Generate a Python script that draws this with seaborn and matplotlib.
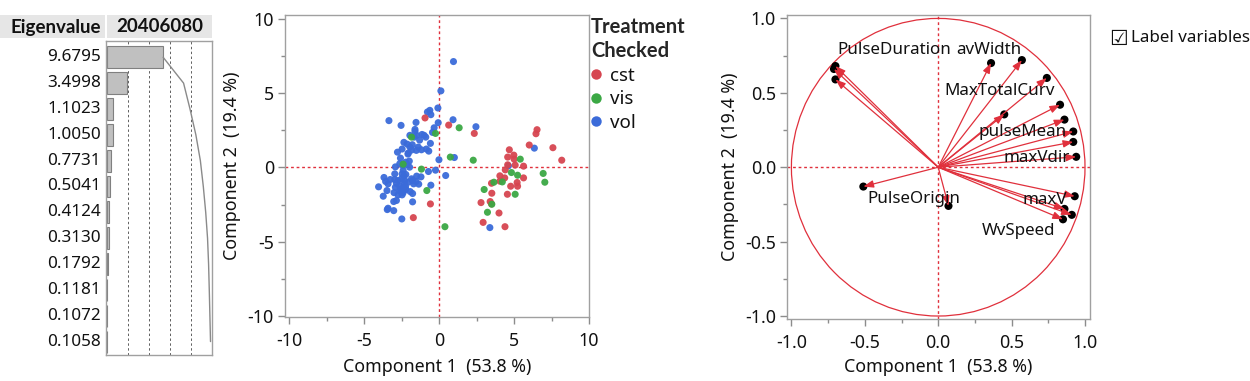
import numpy as np
import pandas as pd
import matplotlib
matplotlib.use("Agg")
import matplotlib.pyplot as plt
import matplotlib.transforms as mtransforms
from matplotlib.patches import Circle, Rectangle
from matplotlib.lines import Line2D
from matplotlib.ticker import MultipleLocator, FormatStrFormatter
import seaborn as sns

# ---------------- data ----------------
eigenvalues = [9.6795, 3.4998, 1.1023, 1.0050, 0.7731, 0.5041,
               0.4124, 0.3130, 0.1792, 0.1181, 0.1072, 0.1058]
n_variables = 18
pct_ticks = [20, 40, 60, 80]

groups = ["cst", "vis", "vol"]

cst_x = [-0.95, 0.63, 2.34, -0.59, -1.73, 6.53, 6.46, 6.01, 7.59, 8.18, 4.68, 4.57,
         4.98, 5.00, 5.07, 4.57, 5.63, 4.41, 4.05, 4.37, 4.05, 3.49, 5.63, 5.20,
         5.23, 4.77, 3.51, 4.55, 2.79, 3.40, 3.49, 3.99, 2.93, 4.39]
cst_y = [3.33, 2.85, 2.29, -2.45, -3.37, 2.54, 2.27, 1.51, 1.33, 0.49, 1.19, 0.70,
         0.83, 0.56, 0.16, 0.18, 0.09, -0.16, -0.56, -0.70, -0.92, -1.06, -0.70, -1.01,
         -1.26, -1.26, -1.73, -1.80, -2.36, -2.29, -2.45, -3.06, -3.69, -3.98]

vis_x = [1.33, -0.25, 0.74, 2.27, -1.19, -2.41, -1.85, -0.83, 0.38, 5.41, 4.82,
         5.23, 6.94, 7.05, 3.65, 4.21, 3.00, 5.07, 3.22, 3.51]
vis_y = [2.67, 2.29, 0.70, 0.49, -0.11, 0.22, 2.04, -1.55, -3.98, 0.56, -0.34,
         -0.52, -0.40, -0.99, -0.99, -0.97, -1.48, -1.80, -3.01, -2.47]

vol_x = [0.95, 0.11, -0.09, -0.63, -0.79, -0.56, -3.36, -1.55, -2.55, -0.07, 0.92, 2.45,
         -0.34, -1.62, -1.62, -0.45, -1.15, -1.96, -1.51, -1.01, -0.90, -1.67, -1.31, -2.36,
         -2.14, -1.80, -1.96, -0.59, -1.40, -2.48, -2.79, -2.07, -1.85, -1.53, -1.19, -0.86,
         -0.70, -2.09, -2.59, -2.23, -2.00, -2.64, -2.43, -2.16, -1.98, -2.93, -0.02, -0.25,
         -0.72, 1.01, 0.43, -2.41, -2.48, -2.23, -2.36, -3.69, -3.27, -2.97, -2.75, -3.58,
         -3.42, -1.51, -1.22, -1.78, -1.55, -1.37, -0.56, -4.05, -2.93, -2.64, -2.34, -2.23,
         -2.64, -2.41, -3.49, -3.02, -3.74, -2.48, -1.78, -2.86, -3.04, -1.78, -3.42, -3.47,
         -3.04, -2.50, 6.35, 4.62, 3.38, -2.52, -2.30, -2.86, -2.57, -2.25, -2.75, -2.41,
         -1.85, -2.07, -1.94, -2.97, -1.71]
vol_y = [7.12, 5.15, 4.00, 3.84, 3.73, 3.55, 3.15, 3.03, 2.83, 3.01, 3.21, 2.74,
         2.67, 2.56, 2.43, 2.36, 2.22, 2.16, 2.16, 2.16, 2.04, 2.04, 1.84, 1.69,
         1.57, 1.53, 1.37, 1.62, 1.37, 1.24, 1.03, 0.97, 1.17, 1.15, 1.19, 1.24,
         1.10, 0.90, 0.63, 0.36, 0.43, 0.25, 0.13, 0.20, 0.02, 0.04, 0.52, -0.18,
         -0.27, 0.67, -0.54, -0.20, -0.43, -0.47, -0.58, -0.67, -0.81, -0.81, -0.88, -0.94,
         -1.10, -0.58, -0.63, -0.88, -0.94, -1.12, -1.19, -1.30, -1.33, -1.24, -1.10, -1.48,
         -1.57, -1.69, -1.55, -1.69, -1.93, -1.84, -1.75, -2.22, -2.29, -2.31, -2.74, -2.83,
         -2.90, -3.46, 1.30, 0.11, -4.04, -0.76, -0.88, -1.06, -1.44, -1.28, -1.84, -1.55,
         -0.76, -0.99, -1.62, -0.43, -1.10]

load_x = [-0.70, -0.71, -0.70, 0.36, 0.57, 0.74, 0.45, 0.83, 0.86, 0.92, 0.92, 0.94,
          0.93, 0.86, 0.91, 0.85, -0.51, 0.07]
load_y = [0.68, 0.66, 0.59, 0.70, 0.72, 0.60, 0.355, 0.42, 0.32, 0.24, 0.17, 0.07,
          -0.195, -0.28, -0.32, -0.35, -0.13, -0.26]

var_labels = ["PulseDuration", "avWidth", "MaxTotalCurv", "pulseMean",
              "maxVdir", "maxV", "WvSpeed", "PulseOrigin"]
label_anchor_x = [-0.685, 0.125, 0.045, 0.275, 0.445, 0.575, 0.295, -0.485]
label_anchor_y = [0.785, 0.79, 0.51, 0.235, 0.065, -0.22, -0.43, -0.215]

pc1_label = "Component 1  (53.8 %)"
pc2_label = "Component 2  (19.4 %)"

# ---------------- style ----------------
sns.set_style("white")
plt.rcParams["font.family"] = ["Noto Sans", "DejaVu Sans"]
plt.rcParams["axes.unicode_minus"] = False
BOLD_FAMILY = ["Lato", "DejaVu Sans"]

RED = "#D64550"
GREEN = "#3BA844"
BLUE = "#3B6BD9"
LINE_RED = "#E0303C"
FRAME = "#A0A0A0"
TXT = "#111111"

W, H = 1250, 381
fig = plt.figure(figsize=(W / 100, H / 100), dpi=100)


def ax_rect(x0, y0, x1, y1):
    return [x0 / W, 1 - y1 / H, (x1 - x0) / W, (y1 - y0) / H]


ax_bar = fig.add_axes(ax_rect(106, 41, 212, 355))
ax_sc = fig.add_axes(ax_rect(285, 15, 589, 317))
ax_ld = fig.add_axes(ax_rect(787, 15, 1090, 319))

for ax in (ax_bar, ax_sc, ax_ld):
    for s in ax.spines.values():
        s.set_color(FRAME)
        s.set_linewidth(1.0)

# ---------------- eigenvalue panel ----------------
pct = np.array(eigenvalues) / n_variables * 100
cum_pct = np.cumsum(pct)
rows = [f"r{i}" for i in range(len(eigenvalues))]
sns.barplot(x=pct, y=rows, orient="h", color="#C0C0C0", edgecolor="#808080",
            linewidth=0.8, width=0.85, saturation=1, ax=ax_bar)
for p in pct_ticks:
    ax_bar.axvline(p, color="#606060", ls=(0, (2.5, 2.5)), lw=0.7, zorder=0)
sns.lineplot(x=cum_pct, y=np.arange(len(eigenvalues)), sort=False, estimator=None,
             orient="y", color="#8A8A8A", lw=1.0, ax=ax_bar)
ax_bar.set_xlim(-0.67, 100.3)
ax_bar.set_ylim(11.52, -0.63)
ax_bar.set_xticks([])
ax_bar.set_yticks([])
ax_bar.set_xlabel("")
ax_bar.set_ylabel("")

trans = mtransforms.blended_transform_factory(fig.transFigure, ax_bar.transData)
for i, v in enumerate(eigenvalues):
    ax_bar.text(101 / W, i, f"{v:.4f}", transform=trans, ha="right", va="center",
                fontsize=12.3, color=TXT, clip_on=False)

fig.patches.append(Rectangle((0, 1 - 38 / H), 105 / W, 23 / H, transform=fig.transFigure,
                             facecolor="#E6E6E6", edgecolor="none"))
fig.patches.append(Rectangle((107 / W, 1 - 38 / H), 105 / W, 23 / H, transform=fig.transFigure,
                             facecolor="#E6E6E6", edgecolor="none"))
fig.text(101 / W, 1 - 27 / H, "Eigenvalue", ha="right", va="center", fontsize=13.5,
         weight="bold", family=BOLD_FAMILY, color=TXT)
fig.text(116 / W, 1 - 27 / H, "".join(str(t) for t in pct_ticks), ha="left", va="center",
         fontsize=13.5, weight="bold", family=BOLD_FAMILY, color=TXT)

# ---------------- score plot ----------------
df = pd.concat([
    pd.DataFrame({"c1": vol_x, "c2": vol_y, "Treatment": "vol"}),
    pd.DataFrame({"c1": cst_x, "c2": cst_y, "Treatment": "cst"}),
    pd.DataFrame({"c1": vis_x, "c2": vis_y, "Treatment": "vis"}),
], ignore_index=True)
palette = {"cst": RED, "vis": GREEN, "vol": BLUE}
ax_sc.axvline(0, color=LINE_RED, ls=(0, (2, 2)), lw=1.0, zorder=1)
ax_sc.axhline(0, color=LINE_RED, ls=(0, (2, 2)), lw=1.0, zorder=1)
sns.scatterplot(data=df, x="c1", y="c2", hue="Treatment", palette=palette, s=26,
                edgecolor="none", linewidth=0, alpha=0.95, legend=False, ax=ax_sc, zorder=3)
ax_sc.set_xlim(-10.3, 10.0)
ax_sc.set_ylim(-10.05, 10.25)
ax_sc.xaxis.set_major_locator(MultipleLocator(5))
ax_sc.xaxis.set_minor_locator(MultipleLocator(2.5))
ax_sc.yaxis.set_major_locator(MultipleLocator(5))
ax_sc.yaxis.set_minor_locator(MultipleLocator(2.5))
ax_sc.xaxis.set_major_formatter(FormatStrFormatter("%d"))
ax_sc.yaxis.set_major_formatter(FormatStrFormatter("%d"))
ax_sc.set_xlabel(pc1_label, fontsize=12.8, color=TXT, va="center")
ax_sc.set_ylabel(pc2_label, fontsize=12.8, color=TXT, va="center")
ax_sc.xaxis.set_label_coords(0.5, -0.165)
ax_sc.yaxis.set_label_coords(-0.174, 0.5)

handles = [Line2D([], [], marker="o", ls="", color=palette[g], markersize=7.5,
                  markeredgewidth=0) for g in groups]
leg = ax_sc.legend(handles, groups, title="Treatment\nChecked", loc="upper left",
                   bbox_to_anchor=(591 / W, 1 - 17 / H), bbox_transform=fig.transFigure,
                   frameon=False, fontsize=13.5, alignment="left",
                   title_fontproperties={"weight": "bold", "size": 14.5,
                                         "family": BOLD_FAMILY},
                   handlelength=0.55, handletextpad=0.45, labelspacing=0.3,
                   borderpad=0, borderaxespad=0)
leg.get_title().set_linespacing(1.25)
for t in leg.get_texts():
    t.set_color(TXT)

# ---------------- loading plot ----------------
ax_ld.axvline(0, color=LINE_RED, ls=(0, (2, 2)), lw=1.0, zorder=1)
ax_ld.axhline(0, color=LINE_RED, ls=(0, (2, 2)), lw=1.0, zorder=1)
ax_ld.add_patch(Circle((0, 0), 1.0, fill=False, edgecolor=LINE_RED, lw=0.9, zorder=1))
sns.scatterplot(x=load_x, y=load_y, color="black", s=34, edgecolor="none", ax=ax_ld, zorder=3)
for lx, ly in zip(load_x, load_y):
    ax_ld.annotate("", xy=(lx, ly), xytext=(0, 0),
                   arrowprops=dict(arrowstyle="-|>,head_length=0.6,head_width=0.22",
                                   color=LINE_RED, lw=0.9, shrinkA=0, shrinkB=0),
                   zorder=4)
for name, tx, ty in zip(var_labels, label_anchor_x, label_anchor_y):
    ax_ld.text(tx, ty, name, ha="left", va="center", fontsize=12.2, color=TXT, zorder=5)
ax_ld.set_xlim(-1.03, 1.034)
ax_ld.set_ylim(-1.02, 1.023)
ax_ld.xaxis.set_major_locator(MultipleLocator(0.5))
ax_ld.xaxis.set_minor_locator(MultipleLocator(0.25))
ax_ld.yaxis.set_major_locator(MultipleLocator(0.5))
ax_ld.yaxis.set_minor_locator(MultipleLocator(0.25))
ax_ld.xaxis.set_major_formatter(FormatStrFormatter("%.1f"))
ax_ld.yaxis.set_major_formatter(FormatStrFormatter("%.1f"))
ax_ld.set_xlabel(pc1_label, fontsize=12.8, color=TXT, va="center")
ax_ld.set_ylabel(pc2_label, fontsize=12.8, color=TXT, va="center")
ax_ld.xaxis.set_label_coords(0.5, -0.158)
ax_ld.yaxis.set_label_coords(-0.188, 0.5)

for ax in (ax_sc, ax_ld):
    ax.tick_params(which="major", direction="out", length=5, width=1, color="#8C8C8C",
                   labelsize=12.8, labelcolor=TXT)
    ax.tick_params(which="minor", direction="out", length=3, width=1, color="#8C8C8C")
    ax.tick_params(bottom=True, left=True, which="both")
    ax.tick_params(axis="x", which="major", pad=6)
    ax.tick_params(axis="y", which="major", pad=3)

fig.text(1109 / W, 1 - 39 / H, "\u2611", ha="left", va="center", fontsize=15,
         family="DejaVu Sans", color=TXT)
fig.text(1131 / W, 1 - 38 / H, "Label variables", ha="left", va="center", fontsize=12.2,
         color=TXT)

fig.savefig("out.png", dpi=100)
